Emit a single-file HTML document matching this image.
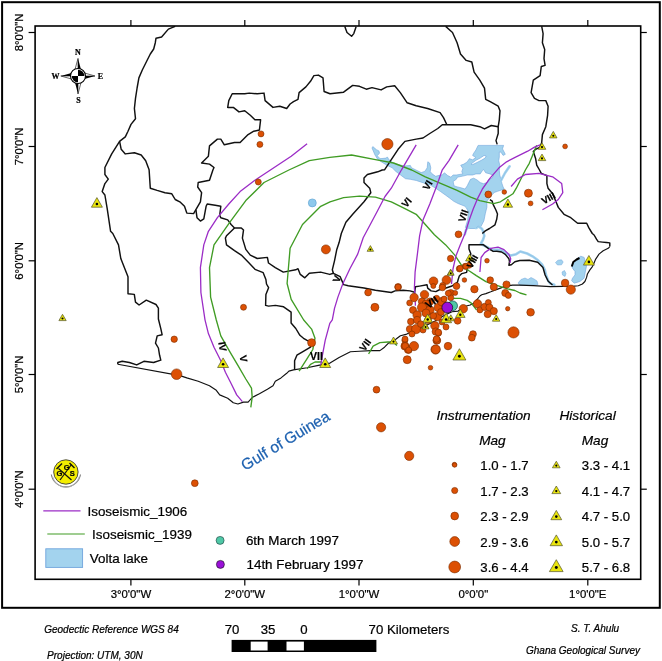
<!DOCTYPE html><html><head><meta charset="utf-8"><title>Seismicity map of southern Ghana</title>
<style>html,body{margin:0;padding:0;background:#fff;}body{width:662px;height:661px;overflow:hidden;position:relative;}svg{position:absolute;left:0;top:0;}text{font-family:"Liberation Sans",Arial,sans-serif;fill:#000;stroke:#000;stroke-width:0.22px;}.ser{font-family:"Liberation Serif","Times New Roman",serif;font-weight:bold;}</style></head><body>
<svg width="662" height="661" viewBox="0 0 662 661">
<rect x="0" y="0" width="662" height="661" fill="#fff"/>
<defs><clipPath id="mc"><rect x="35" y="26" width="606" height="553"/></clipPath></defs>
<g clip-path="url(#mc)">
<polygon points="372.8,146.6 376.5,149.7 378.9,150.9 379.5,153.3 377.1,155.7 380.1,158.7 386.1,158.1 387.3,156.9 389.1,159.9 393.4,163.0 399.4,164.8 404.3,166.0 410.3,165.4 411.5,167.8 416.3,170.2 421.2,172.6 424.8,171.4 427.2,167.8 427.8,161.8 429.6,163.0 430.8,167.8 430.2,171.4 432.0,173.8 435.7,176.3 440.5,175.0 442.2,175.0 444.4,172.8 447.6,175.5 450.9,177.2 453.1,175.0 456.3,175.0 462.8,173.9 461.8,171.7 462.8,168.5 460.7,165.2 463.9,164.1 467.2,161.9 469.4,158.7 472.6,159.8 475.9,157.6 472.6,155.4 473.7,153.2 475.9,150.0 478.1,145.4 503.6,145.4 502.5,148.9 504.2,152.1 505.3,154.3 503.1,155.4 500.9,152.1 499.3,152.1 499.3,157.0 498.7,160.8 499.8,165.2 499.3,170.6 499.8,175.0 500.9,179.3 502.0,183.7 503.1,186.9 504.2,189.1 500.9,190.2 497.6,191.3 494.4,192.4 492.2,194.6 490.0,197.3 486.9,201.1 486.9,207.2 485.4,213.2 483.9,220.8 480.8,226.8 476.0,228.5 470.0,228.5 465.4,227.5 467.6,220.4 468.6,212.5 466.5,208.0 464.4,206.0 458.0,203.5 453.8,201.3 449.5,198.0 445.4,195.0 440.5,191.5 435.7,188.3 430.8,185.3 423.6,182.9 416.3,180.5 410.3,179.3 405.5,178.7 400.6,175.0 395.8,171.4 392.2,167.8 387.3,165.4 381.3,161.8 377.7,159.3 375.0,155.0 372.0,148.0" fill="#a3d3ee" stroke="#6fa4dc" stroke-width="0.6"/>
<polygon points="453.1,181.5 456.3,179.3 457.4,177.2 462.8,176.1 467.2,175.0 472.6,175.0 475.9,173.9 480.2,173.9 482.4,170.6 483.5,169.5 485.7,172.8 490.0,173.9 493.3,175.5 492.2,178.2 488.9,179.3 486.8,182.6 483.5,183.7 480.2,182.6 477.0,179.9 473.7,178.2 470.5,179.3 468.8,182.6 467.2,185.9 465.0,189.1 461.8,188.0 457.4,186.9 454.1,185.9" fill="#fff" stroke="#6fa4dc" stroke-width="0.6"/>
<polygon points="471.0,164.1 475.9,160.3 480.2,158.1 484.1,155.4 486.2,156.0 485.1,158.1 481.3,160.3 477.0,162.5 472.6,164.6" fill="#fff" stroke="#6fa4dc" stroke-width="0.6"/>
<polyline points="476.0,228.0 478.2,226.0 482.2,229.1 483.6,233.2 484.3,235.9 482.9,240.0 480.9,243.4 483.6,245.4 487.7,247.4 490.4,248.8 493.1,250.2 497.2,249.5 502.6,250.8 506.7,253.5 510.8,255.6 516.2,254.2 520.3,251.5 527.1,253.5 532.5,256.3 538.0,260.3 542.0,264.4 544.8,269.9 546.1,275.3 548.2,280.7 550.2,283.5 554.3,284.8" fill="none" stroke="#a3d3ee" stroke-width="2.6" stroke-linejoin="round" stroke-linecap="round"/>
<polyline points="476.0,228.0 478.2,226.0 482.2,229.1 483.6,233.2 484.3,235.9 482.9,240.0 480.9,243.4 483.6,245.4 487.7,247.4 490.4,248.8 493.1,250.2 497.2,249.5 502.6,250.8 506.7,253.5 510.8,255.6 516.2,254.2 520.3,251.5 527.1,253.5 532.5,256.3 538.0,260.3 542.0,264.4 544.8,269.9 546.1,275.3 548.2,280.7 550.2,283.5 554.3,284.8" fill="none" stroke="#7fb3e3" stroke-width="0.5"/>
<polyline points="500.5,181.4 505.0,173.0 509.6,166.3" fill="none" stroke="#a3d3ee" stroke-width="2.6" stroke-linejoin="round" stroke-linecap="round"/>
<polyline points="500.5,181.4 505.0,173.0 509.6,166.3" fill="none" stroke="#7fb3e3" stroke-width="0.5"/>
<polyline points="469.0,226.0 466.0,230.0 464.8,234.5" fill="none" stroke="#a3d3ee" stroke-width="2.6" stroke-linejoin="round" stroke-linecap="round"/>
<polyline points="469.0,226.0 466.0,230.0 464.8,234.5" fill="none" stroke="#7fb3e3" stroke-width="0.5"/>
<polygon points="580.8,256.2 584.1,257.4 584.9,259.9 584.1,263.2 586.6,265.7 585.7,269.9 584.9,274.0 584.1,278.2 579.9,281.5 574.1,283.2 571.6,280.7 572.5,278.2 575.0,274.9 575.0,271.5 572.5,268.2 571.6,264.9 574.1,261.6 576.6,259.1 579.1,257.4" fill="#a3d3ee" stroke="#6fa4dc" stroke-width="0.6"/>
<polygon points="555.5,262.5 558.0,260.2 561.5,259.8 563.2,262.0 561.5,264.8 557.5,265.0" fill="#a3d3ee" stroke="#6fa4dc" stroke-width="0.5"/>
<polygon points="518.0,283.0 521.0,279.5 525.0,278.0 528.0,279.5 531.0,277.5 534.0,279.0 537.0,281.0 538.0,284.5 530.0,285.5 520.0,285.5" fill="#a3d3ee" stroke="#6fa4dc" stroke-width="0.5"/>
<polygon points="562.0,272.0 564.5,270.5 566.0,273.5 565.0,276.5 562.5,275.0" fill="#a3d3ee" stroke="#6fa4dc" stroke-width="0.5"/>
<polyline points="175.2,26.4 168.4,29.1 161.6,37.0 156.0,38.2 155.3,42.7 153.7,49.0 150.3,54.0 146.9,60.8 142.3,70.0 138.9,77.9 137.1,88.0 135.5,98.3 134.4,108.5 135.5,118.7 131.0,124.4 128.0,131.2 125.3,136.9 120.8,140.3 119.6,141.4 111.7,153.9 104.9,167.5 104.9,174.5 108.3,179.1 104.9,183.6 102.2,191.6 104.9,195.0 107.2,208.6 110.6,231.3 112.8,233.5 118.5,244.9 120.8,258.5 128.0,276.7 128.0,293.7 134.3,294.4 135.5,302.1 139.1,305.0 146.3,300.2 156.0,304.5 158.4,308.1 158.4,319.0 160.8,328.7 162.1,334.7 157.2,335.9 155.5,343.2 158.4,348.0 159.6,355.3 160.8,360.1 153.6,362.5 143.9,361.3 136.7,364.9 129.4,362.5 122.2,361.3 117.8,362.5 117.8,364.2" fill="none" stroke="#111" stroke-width="1.45" stroke-linejoin="round"/>
<polyline points="609.8,246.6 609.8,242.9 606.5,242.5 602.4,242.1 598.2,241.6 596.5,239.2 594.1,235.0 592.3,233.5 588.9,227.9 586.7,223.3 577.6,223.3 570.8,217.7 564.0,214.3 558.3,207.4 556.0,201.8 552.6,193.8 548.1,188.2 546.9,183.6 546.9,175.7 541.3,173.4 539.5,170.0 536.7,165.2 535.6,158.4 533.3,151.6 535.6,149.3 540.1,147.1 541.7,142.5 542.4,134.6 545.8,126.7 547.6,115.3 548.1,106.2 545.8,100.6 539.0,100.6 534.5,98.3 531.1,92.6 533.3,80.1 540.1,75.6 541.3,66.5 545.1,65.4 544.0,58.6 544.7,49.5 542.4,42.7 543.1,33.6 541.7,26.4" fill="none" stroke="#111" stroke-width="1.45" stroke-linejoin="round"/>
<polyline points="119.6,141.4 121.2,149.3 125.3,153.9 134.4,152.8 141.2,155.0 145.7,160.7 149.1,169.8 150.3,188.2 157.1,190.4 165.0,192.7 171.8,193.8 175.2,199.5 179.8,201.8 184.5,206.3 186.8,213.1 193.6,213.6 195.9,209.7" fill="none" stroke="#111" stroke-width="1.45" stroke-linejoin="round"/>
<polyline points="446.9,124.8 443.5,117.6 440.1,112.6 427.6,108.5 416.2,105.8 407.2,102.8 400.3,92.6 394.7,85.8 386.7,86.9 381.1,89.9 372.0,87.6 366.3,89.2 359.5,86.3 352.7,85.4 343.6,92.2 330.0,93.8 324.1,91.5 323.0,77.9 318.4,75.1 313.9,75.6 310.5,81.3 305.9,86.9 299.1,92.6 298.0,99.4 293.5,101.7 290.1,104.0 286.7,108.5 279.8,106.2 273.0,107.4 265.1,100.6 264.0,93.1 257.2,93.8 249.2,93.1 244.7,93.8 232.2,93.8 228.8,100.6 227.7,107.4 233.3,107.4 239.0,111.9 244.7,110.8 250.3,115.3 254.9,119.8 260.6,119.8 259.4,130.0 253.8,131.2 248.1,134.6 240.1,142.5 234.5,142.5 224.3,144.8 220.8,139.1 217.4,139.1 209.5,145.9 208.4,156.2 201.6,163.0 209.5,164.1 214.0,167.5 212.9,170.0 209.5,180.2 198.2,182.5 197.7,187.0 201.6,192.7 200.4,201.8 195.9,209.7 197.0,217.7 200.4,221.1 203.8,218.8 206.1,206.3 207.2,204.0 215.2,205.2 220.8,206.3 219.7,215.4 220.8,217.7 227.7,219.9 231.1,224.5 234.5,227.9 241.3,227.9 243.5,230.1 242.4,238.1 245.8,249.4 250.3,255.1 257.2,258.5 267.4,257.4 268.5,263.0 275.3,267.6 283.3,272.1 295.7,269.8 298.0,268.7 300.3,274.4 304.8,277.8 309.3,273.3 320.7,272.1 329.8,274.4 333.4,273.3 340.2,276.7 343.6,284.6 348.2,285.7 364.0,288.0 375.4,290.3 391.3,292.5 395.0,290.9 403.2,290.2 410.0,290.9 414.7,292.2 415.4,286.8 419.5,286.1 427.0,284.7 427.7,288.1 431.1,290.9 435.8,291.6 439.9,289.5 446.0,288.0 452.0,286.0 457.5,282.1 458.1,279.7 459.3,276.0 461.8,273.6 466.6,272.4 467.8,265.9 470.2,257.5 470.8,253.8 469.0,249.0 469.0,244.8 479.9,244.8 483.5,244.8 488.3,248.4 493.2,251.4 496.8,251.2 501.6,252.0 505.3,254.4 508.9,258.7 509.5,261.7 508.9,265.3 511.3,264.7 514.9,261.7 519.8,260.5 529.2,260.2 537.7,262.3 543.0,267.6 545.1,275.0 548.2,281.3 552.5,285.0" fill="none" stroke="#111" stroke-width="1.45" stroke-linejoin="round"/>
<polyline points="446.9,124.8 452.5,124.8 470.7,124.8 479.8,126.7 484.5,128.9 491.3,125.5 498.2,126.7 499.3,119.8 500.0,110.8 498.2,106.2 490.2,101.7 485.7,99.4 484.5,88.1 479.8,80.1 474.1,72.2 471.8,62.0 466.2,60.4 460.5,54.0 457.1,42.7 452.5,32.5 445.7,26.4" fill="none" stroke="#111" stroke-width="1.45" stroke-linejoin="round"/>
<polyline points="498.2,126.7 498.2,133.5 496.0,140.6 497.2,144.4" fill="none" stroke="#111" stroke-width="1.45" stroke-linejoin="round"/>
<polyline points="446.9,124.8 442.3,124.8 437.8,128.5 429.8,133.5 423.0,138.0 416.2,139.1 404.9,141.4 398.1,149.3 391.3,159.6 384.5,169.8 382.2,170.0 377.7,171.8 367.4,174.5 364.0,177.9 364.0,182.5 369.7,188.2 370.8,192.7 364.0,201.8 352.7,214.3 345.9,222.2 341.3,233.5 339.1,242.6 336.8,249.4 334.5,260.8 332.3,269.8 333.4,273.3" fill="none" stroke="#111" stroke-width="1.45" stroke-linejoin="round"/>
<polyline points="234.5,227.9 226.5,235.8 225.4,238.1 226.5,244.9 234.5,250.6 241.3,255.1 248.1,262.0 255.0,269.3 263.2,272.7 265.9,279.5 266.5,284.0 268.6,287.7 265.9,294.5 265.6,305.4 268.6,306.1 275.4,305.4 283.6,306.8 291.1,312.2 291.1,323.1 295.8,328.5 299.9,335.3 303.5,338.3 307.1,340.4 311.6,342.7 310.5,347.2 302.5,351.8 296.9,355.2 294.6,360.8 294.6,369.9" fill="none" stroke="#111" stroke-width="1.45" stroke-linejoin="round"/>
<polyline points="489.9,199.6 492.2,201.1 493.0,204.1 496.0,210.2 497.5,214.0 496.7,219.3 495.0,224.8 489.5,228.5 485.3,230.9 482.3,233.5" fill="none" stroke="#111" stroke-width="1.45" stroke-linejoin="round"/>
<polyline points="344.8,26.4 347.0,32.5 351.6,36.3 353.8,33.6 356.1,26.8" fill="none" stroke="#111" stroke-width="1.45" stroke-linejoin="round"/>
<polyline points="117.8,364.2 180.0,375.6 186.8,377.9 198.2,381.3 209.5,385.8 216.3,390.3 219.7,394.9 227.7,398.3 233.3,402.8 237.9,404.0 243.5,402.1 248.1,402.1 252.6,397.2 259.4,393.8 267.4,389.2 273.0,385.8 275.3,381.3 281.0,377.9 286.7,373.3 288.9,371.1 293.5,369.9 307.1,367.7 318.4,365.4 330.0,363.1 339.1,357.4 350.4,351.8 359.5,351.3 370.8,350.6 379.9,350.6 384.5,347.2 389.0,342.7 395.8,339.3 400.4,335.8 405.9,334.4 415.0,330.0 425.0,326.0 435.0,321.0 445.0,315.0 452.1,311.7 458.1,311.1 465.4,306.3 470.2,305.0 473.8,303.2 477.5,299.0 479.9,296.0 481.7,294.8 485.9,293.6 490.8,291.8 495.6,289.9 500.4,288.1 505.3,286.3 512.5,285.1 520.0,285.1 533.4,285.6 550.4,286.6 563.0,286.4 568.3,286.5 574.1,286.1 578.3,285.7 582.4,284.0 584.9,281.5 586.6,277.4 587.4,274.0 589.9,269.9 592.4,266.6 593.2,264.9 595.7,259.1 599.0,254.1 603.2,250.8 608.2,248.3 609.8,246.6" fill="none" stroke="#111" stroke-width="1.15" stroke-linejoin="round"/>
<polyline points="571.8,266.5 573.3,262.0 576.6,259.5 579.5,258.0" fill="none" stroke="#000" stroke-width="2" stroke-linejoin="round"/>
<polyline points="250.8,407.4 252.2,397.2 251.5,388.1 245.8,379.0 237.9,365.4 229.9,351.8 220.8,335.9 216.3,320.0 210.6,297.1 209.5,267.6 214.0,244.9 229.9,222.2 245.8,200.6 264.0,182.5 288.9,170.0 309.3,160.7 329.8,157.3 351.6,155.0 375.4,159.6 393.5,163.0 411.7,170.0 425.3,176.8 441.2,183.6 457.1,190.4 470.7,197.2 479.8,200.6 493.6,203.6 500.4,201.8 512.9,193.8 516.3,188.2 522.0,176.8 525.4,170.0 529.3,163.3 532.2,156.2 536.7,145.3" fill="none" stroke="#409c24" stroke-width="1.35" stroke-linejoin="round"/>
<polyline points="299.1,371.1 307.1,358.6 312.8,349.5 315.0,338.2 311.6,329.1 303.7,320.0 291.2,299.3 287.1,283.5 290.1,248.3 302.5,224.5 320.7,206.3 330.0,201.8 343.6,197.7 359.5,196.1 375.4,197.2 391.3,201.8 404.9,208.6 416.2,214.3 425.3,224.5 434.4,234.7 445.7,244.9 454.8,255.1 461.6,265.3 469.0,270.8 476.3,275.6 485.9,281.6 496.8,285.3 507.7,288.9 514.9,290.5 520.0,293.0 526.5,294.8" fill="none" stroke="#409c24" stroke-width="1.35" stroke-linejoin="round"/>
<polyline points="453.5,298.4 460.4,298.4 467.2,300.4 471.3,303.1 476.5,309.9" fill="none" stroke="#409c24" stroke-width="1.35" stroke-linejoin="round"/>
<polyline points="368.6,354.0 373.1,346.1 379.9,342.7 387.9,342.0 393.5,342.2 396.9,345.4" fill="none" stroke="#409c24" stroke-width="1.35" stroke-linejoin="round"/>
<polyline points="307.1,368.8 310.5,364.3 315.0,362.0 321.8,362.0" fill="none" stroke="#409c24" stroke-width="1.35" stroke-linejoin="round"/>
<polyline points="307.1,143.7 291.2,156.2 270.8,169.8 254.9,180.2 240.1,191.6 228.8,204.0 217.4,217.7 208.4,231.3 203.8,244.9 200.4,267.6 200.9,292.5 205.0,319.8 208.4,333.6 214.0,347.2 220.8,360.8 225.4,372.2 231.1,383.5 236.7,394.9 242.4,401.7" fill="none" stroke="#9b2cc6" stroke-width="1.3" stroke-linejoin="round"/>
<polyline points="416.2,144.8 401.5,169.8 391.3,188.2 385.0,196.5 377.7,210.5 370.0,225.0 363.2,237.7 357.7,254.1 350.0,268.5 342.5,284.6 337.9,297.1 334.5,308.4 332.3,319.8 329.8,323.4 325.2,340.4 321.8,358.6 320.7,365.4" fill="none" stroke="#9b2cc6" stroke-width="1.3" stroke-linejoin="round"/>
<polyline points="458.2,144.8 449.1,160.3 442.3,169.8 436.7,185.9 429.8,204.0 423.0,219.9 419.6,235.8 417.4,254.0 415.1,272.1 414.4,288.0 415.1,297.1 415.4,305.8" fill="none" stroke="#9b2cc6" stroke-width="1.3" stroke-linejoin="round"/>
<polyline points="540.1,144.8 534.5,147.1 527.7,151.2 515.6,157.2 506.6,161.8 499.0,167.8 489.9,178.4 482.4,189.0 477.8,198.1 473.3,208.7 469.5,219.3 465.0,233.5 460.0,245.5 455.8,256.3 453.0,269.0 451.5,284.0" fill="none" stroke="#9b2cc6" stroke-width="1.3" stroke-linejoin="round"/>
<polyline points="511.1,186.5 517.4,179.1 525.4,174.5 539.0,173.4 552.6,176.8 561.7,183.6 562.8,192.7 558.3,199.5 552.6,204.0 542.4,209.7" fill="none" stroke="#9b2cc6" stroke-width="1.3" stroke-linejoin="round"/>
<polyline points="479.9,272.0 481.1,257.5 484.7,252.6 490.8,248.4 498.0,247.2 504.0,249.6 508.9,254.4 510.7,258.7 510.0,263.0" fill="none" stroke="#9b2cc6" stroke-width="1.3" stroke-linejoin="round"/>
<circle cx="312.3" cy="202.9" r="4.00" fill="#8ec9ec" stroke="#5a9fd0" stroke-width="0.6"/>
<circle cx="261.0" cy="133.9" r="3.00" fill="#dc5004" stroke="#7a2e00" stroke-width="0.6"/>
<circle cx="259.9" cy="144.4" r="3.00" fill="#dc5004" stroke="#7a2e00" stroke-width="0.6"/>
<circle cx="258.3" cy="182.0" r="3.00" fill="#dc5004" stroke="#7a2e00" stroke-width="0.6"/>
<circle cx="387.4" cy="144.1" r="5.60" fill="#dc5004" stroke="#7a2e00" stroke-width="0.6"/>
<circle cx="325.9" cy="249.4" r="4.50" fill="#dc5004" stroke="#7a2e00" stroke-width="0.6"/>
<circle cx="243.5" cy="307.3" r="3.00" fill="#dc5004" stroke="#7a2e00" stroke-width="0.6"/>
<circle cx="174.2" cy="339.2" r="3.20" fill="#dc5004" stroke="#7a2e00" stroke-width="0.6"/>
<circle cx="176.6" cy="374.2" r="5.30" fill="#dc5004" stroke="#7a2e00" stroke-width="0.6"/>
<circle cx="194.8" cy="483.2" r="3.40" fill="#dc5004" stroke="#7a2e00" stroke-width="0.6"/>
<circle cx="311.6" cy="342.7" r="4.00" fill="#dc5004" stroke="#7a2e00" stroke-width="0.6"/>
<circle cx="398.1" cy="286.9" r="3.40" fill="#dc5004" stroke="#7a2e00" stroke-width="0.6"/>
<circle cx="368.1" cy="292.5" r="3.40" fill="#dc5004" stroke="#7a2e00" stroke-width="0.6"/>
<circle cx="374.9" cy="307.3" r="4.00" fill="#dc5004" stroke="#7a2e00" stroke-width="0.6"/>
<circle cx="376.5" cy="389.7" r="3.40" fill="#dc5004" stroke="#7a2e00" stroke-width="0.6"/>
<circle cx="381.1" cy="427.3" r="4.60" fill="#dc5004" stroke="#7a2e00" stroke-width="0.6"/>
<circle cx="409.2" cy="455.9" r="4.60" fill="#dc5004" stroke="#7a2e00" stroke-width="0.6"/>
<circle cx="454.4" cy="464.6" r="2.30" fill="#dc5004" stroke="#7a2e00" stroke-width="0.6"/>
<circle cx="407.2" cy="359.7" r="4.00" fill="#dc5004" stroke="#7a2e00" stroke-width="0.6"/>
<circle cx="430.5" cy="367.7" r="2.30" fill="#dc5004" stroke="#7a2e00" stroke-width="0.6"/>
<circle cx="458.5" cy="234.3" r="3.40" fill="#dc5004" stroke="#7a2e00" stroke-width="0.6"/>
<circle cx="450.6" cy="258.5" r="3.20" fill="#dc5004" stroke="#7a2e00" stroke-width="0.6"/>
<circle cx="459.5" cy="268.8" r="3.20" fill="#dc5004" stroke="#7a2e00" stroke-width="0.6"/>
<circle cx="465.2" cy="266.3" r="3.00" fill="#dc5004" stroke="#7a2e00" stroke-width="0.6"/>
<circle cx="469.0" cy="265.3" r="3.00" fill="#dc5004" stroke="#7a2e00" stroke-width="0.6"/>
<circle cx="488.3" cy="194.4" r="3.40" fill="#dc5004" stroke="#7a2e00" stroke-width="0.6"/>
<circle cx="504.3" cy="192.0" r="2.30" fill="#dc5004" stroke="#7a2e00" stroke-width="0.6"/>
<circle cx="528.4" cy="193.2" r="4.00" fill="#dc5004" stroke="#7a2e00" stroke-width="0.6"/>
<circle cx="530.6" cy="203.4" r="2.40" fill="#dc5004" stroke="#7a2e00" stroke-width="0.6"/>
<circle cx="487.0" cy="260.7" r="2.30" fill="#dc5004" stroke="#7a2e00" stroke-width="0.6"/>
<circle cx="565.1" cy="146.4" r="2.40" fill="#dc5004" stroke="#7a2e00" stroke-width="0.6"/>
<circle cx="513.5" cy="332.4" r="5.60" fill="#dc5004" stroke="#7a2e00" stroke-width="0.6"/>
<circle cx="507.7" cy="308.7" r="2.20" fill="#dc5004" stroke="#7a2e00" stroke-width="0.6"/>
<circle cx="530.6" cy="312.3" r="3.80" fill="#dc5004" stroke="#7a2e00" stroke-width="0.6"/>
<circle cx="565.1" cy="283.0" r="3.80" fill="#dc5004" stroke="#7a2e00" stroke-width="0.6"/>
<circle cx="570.8" cy="289.6" r="4.60" fill="#dc5004" stroke="#7a2e00" stroke-width="0.6"/>
<circle cx="490.2" cy="280.1" r="3.30" fill="#dc5004" stroke="#7a2e00" stroke-width="0.6"/>
<circle cx="493.8" cy="286.9" r="3.60" fill="#dc5004" stroke="#7a2e00" stroke-width="0.6"/>
<circle cx="506.5" cy="284.5" r="3.60" fill="#dc5004" stroke="#7a2e00" stroke-width="0.6"/>
<circle cx="505.3" cy="293.0" r="3.60" fill="#dc5004" stroke="#7a2e00" stroke-width="0.6"/>
<circle cx="508.3" cy="295.4" r="3.00" fill="#dc5004" stroke="#7a2e00" stroke-width="0.6"/>
<circle cx="473.0" cy="334.1" r="3.40" fill="#dc5004" stroke="#7a2e00" stroke-width="0.6"/>
<circle cx="471.8" cy="337.7" r="3.40" fill="#dc5004" stroke="#7a2e00" stroke-width="0.6"/>
<circle cx="404.9" cy="340.4" r="3.00" fill="#dc5004" stroke="#7a2e00" stroke-width="0.6"/>
<circle cx="404.9" cy="346.1" r="4.00" fill="#dc5004" stroke="#7a2e00" stroke-width="0.6"/>
<circle cx="408.3" cy="349.5" r="4.00" fill="#dc5004" stroke="#7a2e00" stroke-width="0.6"/>
<circle cx="414.0" cy="346.1" r="4.60" fill="#dc5004" stroke="#7a2e00" stroke-width="0.6"/>
<circle cx="435.5" cy="349.5" r="4.60" fill="#dc5004" stroke="#7a2e00" stroke-width="0.6"/>
<circle cx="436.7" cy="340.4" r="3.80" fill="#dc5004" stroke="#7a2e00" stroke-width="0.6"/>
<circle cx="438.5" cy="333.2" r="3.00" fill="#dc5004" stroke="#7a2e00" stroke-width="0.6"/>
<circle cx="448.0" cy="346.1" r="3.80" fill="#dc5004" stroke="#7a2e00" stroke-width="0.6"/>
<circle cx="398.0" cy="287.1" r="3.00" fill="#dc5004" stroke="#7a2e00" stroke-width="0.6"/>
<circle cx="433.5" cy="281.3" r="4.40" fill="#dc5004" stroke="#7a2e00" stroke-width="0.6"/>
<circle cx="446.5" cy="280.0" r="4.40" fill="#dc5004" stroke="#7a2e00" stroke-width="0.6"/>
<circle cx="442.7" cy="285.4" r="3.00" fill="#dc5004" stroke="#7a2e00" stroke-width="0.6"/>
<circle cx="456.5" cy="286.1" r="3.40" fill="#dc5004" stroke="#7a2e00" stroke-width="0.6"/>
<circle cx="464.4" cy="280.0" r="2.30" fill="#dc5004" stroke="#7a2e00" stroke-width="0.6"/>
<circle cx="474.4" cy="289.2" r="3.70" fill="#dc5004" stroke="#7a2e00" stroke-width="0.6"/>
<circle cx="460.1" cy="268.4" r="3.00" fill="#dc5004" stroke="#7a2e00" stroke-width="0.6"/>
<circle cx="465.8" cy="266.4" r="2.80" fill="#dc5004" stroke="#7a2e00" stroke-width="0.6"/>
<circle cx="450.8" cy="292.9" r="3.40" fill="#dc5004" stroke="#7a2e00" stroke-width="0.6"/>
<circle cx="450.8" cy="297.7" r="3.00" fill="#dc5004" stroke="#7a2e00" stroke-width="0.6"/>
<circle cx="455.2" cy="292.9" r="2.50" fill="#dc5004" stroke="#7a2e00" stroke-width="0.6"/>
<circle cx="463.3" cy="308.7" r="4.20" fill="#dc5004" stroke="#7a2e00" stroke-width="0.6"/>
<circle cx="477.5" cy="303.8" r="4.20" fill="#dc5004" stroke="#7a2e00" stroke-width="0.6"/>
<circle cx="479.9" cy="309.9" r="3.00" fill="#dc5004" stroke="#7a2e00" stroke-width="0.6"/>
<circle cx="484.7" cy="306.9" r="3.60" fill="#dc5004" stroke="#7a2e00" stroke-width="0.6"/>
<circle cx="488.3" cy="302.6" r="3.00" fill="#dc5004" stroke="#7a2e00" stroke-width="0.6"/>
<circle cx="489.5" cy="307.5" r="3.60" fill="#dc5004" stroke="#7a2e00" stroke-width="0.6"/>
<circle cx="493.8" cy="311.1" r="3.60" fill="#dc5004" stroke="#7a2e00" stroke-width="0.6"/>
<circle cx="487.7" cy="314.1" r="3.60" fill="#dc5004" stroke="#7a2e00" stroke-width="0.6"/>
<circle cx="457.6" cy="320.8" r="3.40" fill="#dc5004" stroke="#7a2e00" stroke-width="0.6"/>
<circle cx="437.2" cy="340.6" r="3.40" fill="#dc5004" stroke="#7a2e00" stroke-width="0.6"/>
<circle cx="405.2" cy="346.0" r="3.40" fill="#dc5004" stroke="#7a2e00" stroke-width="0.6"/>
<circle cx="408.6" cy="350.1" r="3.00" fill="#dc5004" stroke="#7a2e00" stroke-width="0.6"/>
<circle cx="435.8" cy="349.4" r="4.40" fill="#dc5004" stroke="#7a2e00" stroke-width="0.6"/>
<circle cx="414.1" cy="297.5" r="4.20" fill="#dc5004" stroke="#7a2e00" stroke-width="0.6"/>
<circle cx="424.5" cy="294.6" r="4.20" fill="#dc5004" stroke="#7a2e00" stroke-width="0.6"/>
<circle cx="409.6" cy="302.9" r="2.90" fill="#dc5004" stroke="#7a2e00" stroke-width="0.6"/>
<circle cx="422.0" cy="301.6" r="3.70" fill="#dc5004" stroke="#7a2e00" stroke-width="0.6"/>
<circle cx="430.0" cy="301.6" r="3.70" fill="#dc5004" stroke="#7a2e00" stroke-width="0.6"/>
<circle cx="426.0" cy="304.0" r="4.00" fill="#dc5004" stroke="#7a2e00" stroke-width="0.6"/>
<circle cx="422.0" cy="307.5" r="4.60" fill="#dc5004" stroke="#7a2e00" stroke-width="0.6"/>
<circle cx="430.0" cy="310.0" r="4.20" fill="#dc5004" stroke="#7a2e00" stroke-width="0.6"/>
<circle cx="413.0" cy="310.0" r="3.50" fill="#dc5004" stroke="#7a2e00" stroke-width="0.6"/>
<circle cx="426.0" cy="313.0" r="4.00" fill="#dc5004" stroke="#7a2e00" stroke-width="0.6"/>
<circle cx="417.1" cy="315.0" r="4.20" fill="#dc5004" stroke="#7a2e00" stroke-width="0.6"/>
<circle cx="410.8" cy="321.6" r="3.30" fill="#dc5004" stroke="#7a2e00" stroke-width="0.6"/>
<circle cx="417.1" cy="320.0" r="3.70" fill="#dc5004" stroke="#7a2e00" stroke-width="0.6"/>
<circle cx="410.0" cy="329.1" r="3.70" fill="#dc5004" stroke="#7a2e00" stroke-width="0.6"/>
<circle cx="416.2" cy="329.1" r="4.60" fill="#dc5004" stroke="#7a2e00" stroke-width="0.6"/>
<circle cx="420.8" cy="324.1" r="3.30" fill="#dc5004" stroke="#7a2e00" stroke-width="0.6"/>
<circle cx="434.9" cy="325.8" r="4.20" fill="#dc5004" stroke="#7a2e00" stroke-width="0.6"/>
<circle cx="435.8" cy="331.6" r="3.70" fill="#dc5004" stroke="#7a2e00" stroke-width="0.6"/>
<circle cx="438.3" cy="332.4" r="3.30" fill="#dc5004" stroke="#7a2e00" stroke-width="0.6"/>
<circle cx="437.4" cy="316.6" r="4.20" fill="#dc5004" stroke="#7a2e00" stroke-width="0.6"/>
<circle cx="433.3" cy="315.8" r="3.30" fill="#dc5004" stroke="#7a2e00" stroke-width="0.6"/>
<circle cx="438.3" cy="307.5" r="4.20" fill="#dc5004" stroke="#7a2e00" stroke-width="0.6"/>
<circle cx="441.6" cy="301.6" r="4.20" fill="#dc5004" stroke="#7a2e00" stroke-width="0.6"/>
<circle cx="436.6" cy="298.3" r="3.00" fill="#dc5004" stroke="#7a2e00" stroke-width="0.6"/>
<circle cx="444.1" cy="299.1" r="3.00" fill="#dc5004" stroke="#7a2e00" stroke-width="0.6"/>
<circle cx="448.3" cy="293.3" r="3.00" fill="#dc5004" stroke="#7a2e00" stroke-width="0.6"/>
<circle cx="442.4" cy="287.5" r="3.30" fill="#dc5004" stroke="#7a2e00" stroke-width="0.6"/>
<circle cx="433.3" cy="286.0" r="2.50" fill="#dc5004" stroke="#7a2e00" stroke-width="0.6"/>
<circle cx="405.0" cy="339.1" r="3.00" fill="#dc5004" stroke="#7a2e00" stroke-width="0.6"/>
<circle cx="436.6" cy="339.1" r="3.30" fill="#dc5004" stroke="#7a2e00" stroke-width="0.6"/>
<circle cx="428.0" cy="320.0" r="3.50" fill="#dc5004" stroke="#7a2e00" stroke-width="0.6"/>
<circle cx="423.0" cy="330.0" r="3.00" fill="#dc5004" stroke="#7a2e00" stroke-width="0.6"/>
<circle cx="412.0" cy="334.0" r="3.00" fill="#dc5004" stroke="#7a2e00" stroke-width="0.6"/>
<circle cx="442.0" cy="322.0" r="3.00" fill="#dc5004" stroke="#7a2e00" stroke-width="0.6"/>
<circle cx="446.0" cy="327.0" r="3.00" fill="#dc5004" stroke="#7a2e00" stroke-width="0.6"/>
<circle cx="441.0" cy="312.0" r="3.50" fill="#dc5004" stroke="#7a2e00" stroke-width="0.6"/>
<circle cx="452.6" cy="305.8" r="4.90" fill="#4fc8a6" stroke="#0a2a40" stroke-width="0.6"/>
<circle cx="447.3" cy="307.5" r="5.40" fill="#9a10d8" stroke="#000" stroke-width="0.6"/>
<path d="M96.9,197.6 L102.4,207.2 L91.4,207.2 Z" fill="#e8e40e" stroke="#55552a" stroke-width="0.7"/><circle cx="96.9" cy="204.0" r="1.30" fill="#000"/>
<path d="M62.5,314.3 L66.2,320.6 L58.9,320.6 Z" fill="#e8e40e" stroke="#55552a" stroke-width="0.7"/><circle cx="62.5" cy="318.5" r="1.05" fill="#000"/>
<path d="M223.1,357.9 L228.6,367.5 L217.6,367.5 Z" fill="#e8e40e" stroke="#55552a" stroke-width="0.7"/><circle cx="223.1" cy="364.3" r="1.30" fill="#000"/>
<path d="M325.2,357.9 L330.7,367.5 L319.7,367.5 Z" fill="#e8e40e" stroke="#55552a" stroke-width="0.7"/><circle cx="325.2" cy="364.3" r="1.30" fill="#000"/>
<path d="M370.4,245.6 L373.6,251.3 L367.1,251.3 Z" fill="#e8e40e" stroke="#55552a" stroke-width="0.7"/><circle cx="370.4" cy="249.4" r="0.99" fill="#000"/>
<path d="M553.3,131.4 L557.0,137.9 L549.5,137.9 Z" fill="#e8e40e" stroke="#55552a" stroke-width="0.7"/><circle cx="553.3" cy="135.7" r="1.06" fill="#000"/>
<path d="M542.0,142.8 L545.8,149.3 L538.2,149.3 Z" fill="#e8e40e" stroke="#55552a" stroke-width="0.7"/><circle cx="542.0" cy="147.1" r="1.06" fill="#000"/>
<path d="M542.0,154.1 L545.8,160.6 L538.2,160.6 Z" fill="#e8e40e" stroke="#55552a" stroke-width="0.7"/><circle cx="542.0" cy="158.4" r="1.06" fill="#000"/>
<path d="M507.9,199.0 L512.6,207.2 L503.1,207.2 Z" fill="#e8e40e" stroke="#55552a" stroke-width="0.7"/><circle cx="507.9" cy="204.5" r="1.20" fill="#000"/>
<path d="M588.9,255.5 L594.4,265.1 L583.4,265.1 Z" fill="#e8e40e" stroke="#55552a" stroke-width="0.7"/><circle cx="588.9" cy="261.9" r="1.30" fill="#000"/>
<path d="M450.6,269.2 L454.1,275.2 L447.1,275.2 Z" fill="#e8e40e" stroke="#55552a" stroke-width="0.7"/><circle cx="450.6" cy="273.2" r="1.03" fill="#000"/>
<path d="M393.5,337.0 L397.5,343.9 L389.5,343.9 Z" fill="#e8e40e" stroke="#55552a" stroke-width="0.7"/><circle cx="393.5" cy="341.6" r="1.09" fill="#000"/>
<path d="M425.3,322.4 L428.8,328.4 L421.8,328.4 Z" fill="#e8e40e" stroke="#55552a" stroke-width="0.7"/><circle cx="425.3" cy="326.4" r="1.03" fill="#000"/>
<path d="M459.4,348.7 L465.9,360.0 L452.9,360.0 Z" fill="#e8e40e" stroke="#55552a" stroke-width="0.7"/><circle cx="459.4" cy="356.2" r="1.43" fill="#000"/>
<path d="M450.8,269.7 L453.8,274.9 L447.8,274.9 Z" fill="#e8e40e" stroke="#55552a" stroke-width="0.7"/><circle cx="450.8" cy="273.2" r="0.96" fill="#000"/>
<path d="M427.7,314.0 L432.4,322.2 L422.9,322.2 Z" fill="#e8e40e" stroke="#55552a" stroke-width="0.7"/><circle cx="427.7" cy="319.5" r="1.20" fill="#000"/>
<path d="M446.1,313.1 L451.6,322.7 L440.6,322.7 Z" fill="#e8e40e" stroke="#55552a" stroke-width="0.7"/><circle cx="446.1" cy="319.5" r="1.30" fill="#000"/>
<path d="M450.8,314.8 L454.3,320.8 L447.3,320.8 Z" fill="#e8e40e" stroke="#55552a" stroke-width="0.7"/><circle cx="450.8" cy="318.8" r="1.03" fill="#000"/>
<path d="M460.3,309.2 L465.1,317.4 L455.6,317.4 Z" fill="#e8e40e" stroke="#55552a" stroke-width="0.7"/><circle cx="460.3" cy="314.7" r="1.20" fill="#000"/>
<path d="M425.6,323.2 L428.9,328.9 L422.4,328.9 Z" fill="#e8e40e" stroke="#55552a" stroke-width="0.7"/><circle cx="425.6" cy="327.0" r="0.99" fill="#000"/>
<path d="M469.6,254.1 L473.6,261.0 L465.6,261.0 Z" fill="#e8e40e" stroke="#55552a" stroke-width="0.7"/><circle cx="469.6" cy="258.7" r="1.09" fill="#000"/>
<path d="M496.2,314.7 L499.9,321.2 L492.4,321.2 Z" fill="#e8e40e" stroke="#55552a" stroke-width="0.7"/><circle cx="496.2" cy="319.0" r="1.06" fill="#000"/>
<text x="222.5" y="346.6" font-size="10" font-weight="bold" text-anchor="middle" dominant-baseline="central" transform="rotate(80 222.5 346.6)">IV</text>
<text x="243.6" y="358.7" font-size="10" font-weight="bold" text-anchor="middle" dominant-baseline="central" transform="rotate(80 243.6 358.7)">V</text>
<text x="406.5" y="202.4" font-size="10" font-weight="bold" text-anchor="middle" dominant-baseline="central" transform="rotate(-50 406.5 202.4)">VI</text>
<text x="427.6" y="185.1" font-size="10" font-weight="bold" text-anchor="middle" dominant-baseline="central" transform="rotate(-60 427.6 185.1)">VI</text>
<text x="463.3" y="215.9" font-size="10" font-weight="bold" text-anchor="middle" dominant-baseline="central" transform="rotate(-72 463.3 215.9)">VII</text>
<text x="548.3" y="198.1" font-size="9.5" font-weight="bold" text-anchor="middle" dominant-baseline="central" transform="rotate(-28 548.3 198.1)">VIII</text>
<text x="336.8" y="278.9" font-size="10" font-weight="bold" text-anchor="middle" dominant-baseline="central" transform="rotate(-70 336.8 278.9)">V</text>
<text x="365.2" y="345" font-size="10" font-weight="bold" text-anchor="middle" dominant-baseline="central" transform="rotate(-55 365.2 345)">VII</text>
<text x="316.4" y="355.5" font-size="10.5" font-weight="bold" text-anchor="middle" dominant-baseline="central" transform="rotate(0 316.4 355.5)">VII</text>
<text x="431.5" y="302" font-size="10.5" font-weight="bold" text-anchor="middle" dominant-baseline="central" transform="rotate(-35 431.5 302)">VII</text>
<text x="472.6" y="261.7" font-size="9" font-weight="bold" text-anchor="middle" dominant-baseline="central" transform="rotate(-60 472.6 261.7)">VIII</text>
<text x="285.3" y="440.4" font-size="15.6" fill="#1d61b0" style="fill:#1d61b0;stroke:#1d61b0" text-anchor="middle" dominant-baseline="central" transform="rotate(-31 285.3 440.4)">Gulf of Guinea</text>
</g>
<rect x="2.1" y="2.2" width="657.7" height="605.6" fill="none" stroke="#000" stroke-width="2"/>
<rect x="35.1" y="26" width="605.6" height="553.3" fill="none" stroke="#000" stroke-width="1.6"/>
<line x1="28.6" y1="32.5" x2="35.1" y2="32.5" stroke="#000" stroke-width="1.2"/>
<line x1="640.7" y1="32.5" x2="646.8" y2="32.5" stroke="#000" stroke-width="1.2"/>
<line x1="28.6" y1="146.5" x2="35.1" y2="146.5" stroke="#000" stroke-width="1.2"/>
<line x1="640.7" y1="146.5" x2="646.8" y2="146.5" stroke="#000" stroke-width="1.2"/>
<line x1="28.6" y1="260.8" x2="35.1" y2="260.8" stroke="#000" stroke-width="1.2"/>
<line x1="640.7" y1="260.8" x2="646.8" y2="260.8" stroke="#000" stroke-width="1.2"/>
<line x1="28.6" y1="374.5" x2="35.1" y2="374.5" stroke="#000" stroke-width="1.2"/>
<line x1="640.7" y1="374.5" x2="646.8" y2="374.5" stroke="#000" stroke-width="1.2"/>
<line x1="28.6" y1="489.2" x2="35.1" y2="489.2" stroke="#000" stroke-width="1.2"/>
<line x1="640.7" y1="489.2" x2="646.8" y2="489.2" stroke="#000" stroke-width="1.2"/>
<line x1="130.9" y1="20" x2="130.9" y2="26" stroke="#000" stroke-width="1.2"/>
<line x1="130.9" y1="579.3" x2="130.9" y2="585.4" stroke="#000" stroke-width="1.2"/>
<line x1="244.8" y1="20" x2="244.8" y2="26" stroke="#000" stroke-width="1.2"/>
<line x1="244.8" y1="579.3" x2="244.8" y2="585.4" stroke="#000" stroke-width="1.2"/>
<line x1="359.0" y1="20" x2="359.0" y2="26" stroke="#000" stroke-width="1.2"/>
<line x1="359.0" y1="579.3" x2="359.0" y2="585.4" stroke="#000" stroke-width="1.2"/>
<line x1="473.3" y1="20" x2="473.3" y2="26" stroke="#000" stroke-width="1.2"/>
<line x1="473.3" y1="579.3" x2="473.3" y2="585.4" stroke="#000" stroke-width="1.2"/>
<line x1="587.8" y1="20" x2="587.8" y2="26" stroke="#000" stroke-width="1.2"/>
<line x1="587.8" y1="579.3" x2="587.8" y2="585.4" stroke="#000" stroke-width="1.2"/>
<text x="22.8" y="32.5" font-size="11.3" text-anchor="middle" transform="rotate(-90 22.8 32.5)">8°0'0"N</text>
<text x="22.8" y="146.5" font-size="11.3" text-anchor="middle" transform="rotate(-90 22.8 146.5)">7°0'0"N</text>
<text x="22.8" y="260.8" font-size="11.3" text-anchor="middle" transform="rotate(-90 22.8 260.8)">6°0'0"N</text>
<text x="22.8" y="374.5" font-size="11.3" text-anchor="middle" transform="rotate(-90 22.8 374.5)">5°0'0"N</text>
<text x="22.8" y="489.2" font-size="11.3" text-anchor="middle" transform="rotate(-90 22.8 489.2)">4°0'0"N</text>
<text x="130.9" y="598.0" font-size="11.4" text-anchor="middle">3°0'0"W</text>
<text x="244.8" y="598.0" font-size="11.4" text-anchor="middle">2°0'0"W</text>
<text x="359.0" y="598.0" font-size="11.4" text-anchor="middle">1°0'0"W</text>
<text x="473.3" y="598.0" font-size="11.4" text-anchor="middle">0°0'0"</text>
<text x="587.8" y="598.0" font-size="11.4" text-anchor="middle">1°0'0"E</text>
<g><path d="M78.0,58.4 L81.0,69.5 L78.0,76.0 Z" fill="#000"/><path d="M78.0,58.4 L75.0,69.5 L78.0,76.0 Z" fill="#fff" stroke="#000" stroke-width="0.6"/><path d="M78.0,94.0 L75.0,82.5 L78.0,76.0 Z" fill="#000"/><path d="M78.0,94.0 L81.0,82.5 L78.0,76.0 Z" fill="#fff" stroke="#000" stroke-width="0.6"/><path d="M60.8,76.0 L71.5,79.0 L78.0,76.0 Z" fill="#fff" stroke="#000" stroke-width="0.6"/><path d="M60.8,76.0 L71.5,73.0 L78.0,76.0 Z" fill="#000"/><path d="M95.0,76.0 L84.5,73.0 L78.0,76.0 Z" fill="#fff" stroke="#000" stroke-width="0.6"/><path d="M95.0,76.0 L84.5,79.0 L78.0,76.0 Z" fill="#000"/><circle cx="78.0" cy="76.0" r="7.5" fill="#fff" stroke="#000" stroke-width="1.1"/><path d="M78.0,76.0 L78.0,69.7 A6.3,6.3 0 0 1 84.3,76.0 Z" fill="#000"/><path d="M78.0,76.0 L78.0,82.3 A6.3,6.3 0 0 1 71.7,76.0 Z" fill="#000"/></g>
<text class="ser" x="78.0" y="55.4" font-size="8" text-anchor="middle">N</text>
<text class="ser" x="78.4" y="102.6" font-size="8" text-anchor="middle">S</text>
<text class="ser" x="55.4" y="78.9" font-size="8" text-anchor="middle">W</text>
<text class="ser" x="100.4" y="79.1" font-size="8" text-anchor="middle">E</text>
<path d="M51.3,474.5 A14.8,14.8 0 0 0 80.5,474.5" fill="none" stroke="#7a7a7a" stroke-width="1.1"/>
<path d="M52.6,476.6 A13.6,13.6 0 0 0 79.2,476.6" fill="none" stroke="#b0b0b0" stroke-width="0.9"/>
<circle cx="65.9" cy="472.0" r="12.2" fill="#f4ee00" stroke="#3a3a3a" stroke-width="0.9"/>
<line x1="58.5" y1="468.5" x2="71.5" y2="480" stroke="#111" stroke-width="1.2"/>
<line x1="71.5" y1="464.5" x2="60" y2="480" stroke="#111" stroke-width="1.2"/>
<line x1="56.5" y1="469" x2="62" y2="463.5" stroke="#111" stroke-width="1.4"/>
<line x1="69.5" y1="463" x2="74.5" y2="468" stroke="#111" stroke-width="1.4"/>
<text x="66.6" y="470.1" font-size="7.6" font-weight="bold" text-anchor="middle">G</text>
<text x="59.4" y="476.4" font-size="7.6" font-weight="bold" text-anchor="middle">G</text>
<text x="72.2" y="476.4" font-size="7.6" font-weight="bold" text-anchor="middle">S</text>
<line x1="43.3" y1="510.8" x2="80.5" y2="510.8" stroke="#9b2cc6" stroke-width="1.3"/>
<text x="87.5" y="516.4" font-size="13.4">Isoseismic_1906</text>
<line x1="47.3" y1="534" x2="84.8" y2="534" stroke="#409c24" stroke-width="1.2"/>
<text x="92.1" y="539.3" font-size="13.4">Isoseismic_1939</text>
<rect x="45.8" y="548.8" width="36.8" height="18.6" fill="#a3d3ee" stroke="#6fa4dc" stroke-width="0.9"/>
<text x="89.8" y="563" font-size="13.4">Volta lake</text>
<circle cx="220.1" cy="540.4" r="4.00" fill="#4fc8a6" stroke="#1a3a3a" stroke-width="0.6"/>
<text x="245.9" y="545.2" font-size="13.4">6th March 1997</text>
<circle cx="220.4" cy="564.4" r="4.00" fill="#9a10d8" stroke="#111" stroke-width="0.6"/>
<text x="246.5" y="569.3" font-size="13.4">14th February 1997</text>
<text x="436.4" y="419.8" font-size="13.7" font-style="italic">Instrumentation</text>
<text x="559.4" y="419.8" font-size="13.7" font-style="italic">Historical</text>
<text x="479.2" y="445.1" font-size="13.6" font-style="italic">Mag</text>
<text x="581.8" y="445.1" font-size="13.6" font-style="italic">Mag</text>
<circle cx="454.7" cy="465.0" r="2.20" fill="#dc5004" stroke="#7a2e00" stroke-width="0.6"/>
<text x="480.3" y="470.3" font-size="13.2">1.0 - 1.7</text>
<path d="M556.3,461.2 L560.1,467.8 L552.4,467.8 Z" fill="#e8e40e" stroke="#55552a" stroke-width="0.7"/><circle cx="556.3" cy="465.6" r="1.07" fill="#000"/>
<text x="581.8" y="470.3" font-size="13.2">3.3 - 4.1</text>
<circle cx="454.7" cy="490.5" r="3.10" fill="#dc5004" stroke="#7a2e00" stroke-width="0.6"/>
<text x="480.3" y="495.8" font-size="13.2">1.7 - 2.3</text>
<path d="M556.3,486.0 L560.7,493.6 L551.9,493.6 Z" fill="#e8e40e" stroke="#55552a" stroke-width="0.7"/><circle cx="556.3" cy="491.1" r="1.15" fill="#000"/>
<text x="581.8" y="495.8" font-size="13.2">4.1 - 4.7</text>
<circle cx="454.7" cy="516.0" r="3.90" fill="#dc5004" stroke="#7a2e00" stroke-width="0.6"/>
<text x="480.3" y="521.3" font-size="13.2">2.3 - 2.9</text>
<path d="M556.3,510.4 L561.7,519.7 L550.9,519.7 Z" fill="#e8e40e" stroke="#55552a" stroke-width="0.7"/><circle cx="556.3" cy="516.6" r="1.28" fill="#000"/>
<text x="581.8" y="521.3" font-size="13.2">4.7 - 5.0</text>
<circle cx="454.7" cy="541.5" r="4.90" fill="#dc5004" stroke="#7a2e00" stroke-width="0.6"/>
<text x="480.3" y="546.8" font-size="13.2">2.9 - 3.6</text>
<path d="M556.3,534.9 L562.5,545.7 L550.1,545.7 Z" fill="#e8e40e" stroke="#55552a" stroke-width="0.7"/><circle cx="556.3" cy="542.1" r="1.39" fill="#000"/>
<text x="581.8" y="546.8" font-size="13.2">5.0 - 5.7</text>
<circle cx="454.7" cy="567.0" r="5.90" fill="#dc5004" stroke="#7a2e00" stroke-width="0.6"/>
<text x="480.3" y="572.3" font-size="13.2">3.6 - 4.4</text>
<path d="M556.3,559.7 L563.1,571.6 L549.4,571.6 Z" fill="#e8e40e" stroke="#55552a" stroke-width="0.7"/><circle cx="556.3" cy="567.6" r="1.48" fill="#000"/>
<text x="581.8" y="572.3" font-size="13.2">5.7 - 6.8</text>
<text x="44.2" y="632.5" font-size="10" font-style="italic">Geodectic Reference WGS 84</text>
<text x="47.1" y="659" font-size="10" font-style="italic">Projection: UTM, 30N</text>
<text x="571" y="632" font-size="10" font-style="italic">S. T. Ahulu</text>
<text x="640" y="654" font-size="10" font-style="italic" text-anchor="end">Ghana Geological Survey</text>
<rect x="231.6" y="639.9" width="144.8" height="12.1" fill="#000"/>
<rect x="250.7" y="641.6" width="16.9" height="8.9" fill="#fff"/>
<rect x="286.5" y="641.6" width="17.4" height="8.9" fill="#fff"/>
<text x="232.1" y="634.3" font-size="13.2" text-anchor="middle">70</text>
<text x="268.1" y="634.3" font-size="13.2" text-anchor="middle">35</text>
<text x="303.8" y="634.3" font-size="13.2" text-anchor="middle">0</text>
<text x="368.6" y="634.3" font-size="13.2">70 Kilometers</text>
</svg></body></html>
